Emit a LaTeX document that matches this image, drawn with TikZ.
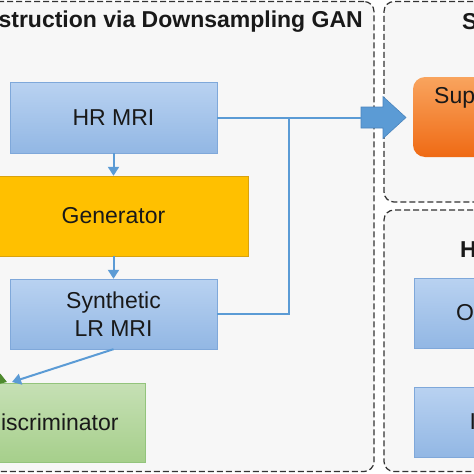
\documentclass[tikz,border=0pt]{standalone}
\usepackage{fontspec}
\setmainfont{Liberation Sans}
\usetikzlibrary{shapes, arrows.meta, positioning}

\definecolor{linkblue}{HTML}{5B9BD5}
\definecolor{linkedge}{HTML}{4A84BC}
\definecolor{mritop}{HTML}{B9D2F1}
\definecolor{mribot}{HTML}{92B7E4}
\definecolor{mriedge}{HTML}{7FA8DA}
\definecolor{genfill}{HTML}{FFC000}
\definecolor{genedge}{HTML}{D9A20E}
\definecolor{disctop}{HTML}{C6E0B5}
\definecolor{discbot}{HTML}{A6CF8B}
\definecolor{discedge}{HTML}{93C47C}
\definecolor{srtop}{HTML}{F9A45E}
\definecolor{srbot}{HTML}{EF6A14}
\definecolor{darkgreen}{HTML}{4E8A2E}

\begin{document}
\begin{tikzpicture}[x=1pt, y=-1pt, >={Triangle[length=9pt, width=11pt]},
    panel/.style={rectangle, rounded corners=10pt, draw=black!80, fill=black!3,
                  dash pattern=on 6pt off 3pt, line width=1.2pt},
    boxtext/.style={font=\fontsize{23}{28}\selectfont, text=black!90, align=center},
    mri/.style={rectangle, boxtext, draw=mriedge, top color=mritop, bottom color=mribot, inner sep=0pt},
    title/.style={font=\bfseries\fontsize{23}{28}\selectfont, text=black!90, inner sep=0pt},
    link/.style={draw=linkblue, line width=2pt}]

    \useasboundingbox (0,0) rectangle (474,474);
    \clip (0,0) rectangle (474,474);
    \fill[white] (0,0) rectangle (474,474);

    % Panels
    \node[panel, minimum width=474pt, minimum height=470pt] (recpanel) at (137,236.5) {};
    \node[panel, minimum width=216pt, minimum height=200.5pt] (srpanel) at (492,101.75) {};
    \node[panel, minimum width=216pt, minimum height=261.5pt] (hpanel) at (492,340.75) {};

    % Titles
    \node[title, anchor=east] (rectitle) at (363,22) {Reconstruction via Downsampling GAN};
    \node[title, anchor=west] (srtitle) at (462,22) {S};
    \node[title, anchor=west] (htitle) at (460,250) {H};

    % Downsampling GAN
    \node[mri, minimum width=207pt, minimum height=71pt] (hr) at (113.5,117.5) {HR MRI};
    \node[rectangle, boxtext, draw=genedge, fill=genfill, inner sep=0pt,
          minimum width=270pt, minimum height=80pt] (gen) at (113.5,216) {Generator};
    \node[mri, minimum width=207pt, minimum height=70pt] (syn) at (113.5,314) {Synthetic\\LR MRI};
    \node[rectangle, boxtext, draw=discedge, top color=disctop, bottom color=discbot, inner sep=0pt,
          minimum width=187pt, minimum height=79pt] (disc) at (51.5,422.5) {Discriminator};

    % Super-resolution box
    \node[rectangle, rounded corners=12pt, top color=srtop, bottom color=srbot, inner sep=0pt,
          minimum width=187pt, minimum height=80pt] (sr) at (506.5,117) {};
    \node[boxtext, anchor=west, inner sep=0pt] (srtext) at (434,98) {Sup};

    % Right lower boxes
    \node[mri, minimum width=186pt, minimum height=70pt] (hbox1) at (507,313) {};
    \node[boxtext, anchor=west, inner sep=0pt] (hbox1text) at (456,313) {O};
    \node[mri, minimum width=186pt, minimum height=70pt] (hbox2) at (507,422) {};
    \node[boxtext, anchor=west, inner sep=0pt] (hbox2text) at (469.5,422) {I};

    % Big arrow to super-resolution
    \coordinate (bigtail) at (361,117.5);
    \filldraw[fill=linkblue, draw=linkedge, line width=0.6pt]
        (bigtail) ++(0,-10.5) -- ++(22,0) -- ++(0,-10.5) -- ++(23,21)
        -- ++(-23,21) -- ++(0,-10.5) -- ++(-22,0) -- cycle;

    % Connectors
    \coordinate (split) at (289,117.5);
    \coordinate (dinB) at (12,382);
    \coordinate (dinG) at (7,382);
    \coordinate (gsrc) at (-40,366);

    \draw[link, ->] (hr.south) -- (gen.north);
    \draw[link, ->] (gen.south) -- (syn.north);
    \draw[link] (hr.east) -- (bigtail);
    \draw[link] (syn.east) -| (split);
    \draw[link, ->] (syn.south) -- (dinB);
    \draw[draw=darkgreen, line width=2pt, ->] (gsrc) -- (dinG);

\end{tikzpicture}
\end{document}
